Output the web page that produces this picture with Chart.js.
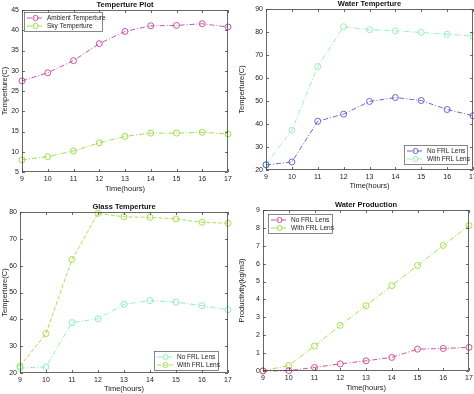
<!DOCTYPE html>
<html lang="en">
<head>
<meta charset="UTF-8">
<title>Temperture Plots</title>
<script src="https://cdn.jsdelivr.net/npm/chart.js"></script>
<style>
  body { margin: 0; background: #fff; }
  #wrap { position: relative; width: 474px; height: 394px; overflow: hidden; background: #fff; }
  #wrap canvas { position: absolute; }
</style>
</head>
<body>
<div id="wrap"></div>
<script>
// data
const hours = ['9', '10', '11', '12', '13', '14', '15', '16', '17'];

const ambientTemp = [27.5, 29.5, 32.5, 36.7, 39.7, 41.1, 41.2, 41.6, 40.8];
const skyTemp = [8.0, 8.8, 10.2, 12.2, 13.8, 14.6, 14.6, 14.8, 14.4];

const waterNoFrl = [22.2, 23.5, 41.2, 44.3, 49.8, 51.5, 50.2, 46.3, 43.6];
const waterWithFrl = [22.5, 37.3, 65.0, 82.3, 81.0, 80.5, 79.8, 79.0, 78.2];

const glassNoFrl = [21.8, 22.3, 38.8, 40.2, 45.6, 47.0, 46.4, 45.1, 43.6];
const glassWithFrl = [22.5, 34.7, 62.3, 79.5, 78.2, 78.0, 77.4, 76.2, 75.8];

const prodNoFrl = [0.0, 0.02, 0.2, 0.4, 0.57, 0.76, 1.22, 1.26, 1.32];
const prodWithFrl = [0.02, 0.3, 1.4, 2.55, 3.65, 4.77, 5.9, 7.02, 8.13];

const FONT = 'Liberation Sans, Arial, sans-serif';

// box + inward ticks + title + legend inside plot area (matlab look)
const matlabLook = {
    id: 'matlabLook',
    afterDatasetsDraw(chart, args, opts) {
        const ctx = chart.ctx;
        const a = chart.chartArea;
        const xs = chart.scales.x, ys = chart.scales.y;
        ctx.save();
        ctx.strokeStyle = '#444';
        ctx.lineWidth = 0.8;
        ctx.setLineDash([]);
        ctx.strokeRect(a.left + 0.5, a.top + 0.5, a.right - a.left - 1, a.bottom - a.top - 1);
        ctx.beginPath();
        xs.ticks.forEach((t, i) => {
            const px = Math.round(xs.getPixelForTick(i)) + 0.5;
            ctx.moveTo(px, a.bottom); ctx.lineTo(px, a.bottom - 3);
            ctx.moveTo(px, a.top); ctx.lineTo(px, a.top + 3);
        });
        ys.ticks.forEach(t => {
            const py = Math.round(ys.getPixelForValue(t.value)) + 0.5;
            ctx.moveTo(a.left, py); ctx.lineTo(a.left + 3, py);
            ctx.moveTo(a.right, py); ctx.lineTo(a.right - 3, py);
        });
        ctx.stroke();

        // title
        ctx.fillStyle = '#111';
        ctx.font = 'bold 7.5px ' + FONT;
        ctx.textAlign = 'center';
        ctx.textBaseline = 'bottom';
        ctx.fillText(opts.title, (a.left + a.right) / 2, a.top - 1);

        // legend
        const lg = opts.legend;
        const w = lg.w, rowH = 8, h = rowH * chart.data.datasets.length + 3;
        let bx, by;
        if (lg.pos === 'nw') { bx = a.left + lg.dx; by = a.top + lg.dy; }
        else { bx = a.right - lg.dx - w; by = a.bottom - lg.dy - h; }
        ctx.fillStyle = '#fff';
        ctx.fillRect(bx, by, w, h);
        ctx.strokeStyle = '#555';
        ctx.lineWidth = 0.7;
        ctx.strokeRect(bx + 0.5, by + 0.5, w, h);
        chart.data.datasets.forEach((ds, i) => {
            const cy = by + 2 + rowH * i + rowH / 2;
            ctx.strokeStyle = ds.borderColor;
            ctx.lineWidth = 0.9;
            ctx.setLineDash(ds.borderDash || []);
            ctx.beginPath();
            ctx.moveTo(bx + 3, cy); ctx.lineTo(bx + 20, cy);
            ctx.stroke();
            ctx.setLineDash([]);
            ctx.beginPath();
            ctx.arc(bx + 11.5, cy, 2.6, 0, Math.PI * 2);
            ctx.stroke();
            ctx.fillStyle = '#222';
            ctx.font = '6.5px ' + FONT;
            ctx.textAlign = 'left';
            ctx.textBaseline = 'middle';
            ctx.fillText(ds.label, bx + 23, cy);
        });
        ctx.restore();
    }
};

function series(label, data, color, dash) {
    return {
        label: label,
        data: data,
        borderColor: color,
        backgroundColor: 'transparent',
        borderWidth: 0.9,
        borderDash: dash,
        pointRadius: 3,
        pointBorderWidth: 0.9,
        pointBorderColor: color,
        pointBackgroundColor: 'transparent',
        tension: 0,
        clip: false
    };
}

function makePanel(cfg) {
    const canvas = document.createElement('canvas');
    canvas.width = cfg.box[2];
    canvas.height = cfg.box[3];
    canvas.style.left = cfg.box[0] + 'px';
    canvas.style.top = cfg.box[1] + 'px';
    canvas.style.width = cfg.box[2] + 'px';
    canvas.style.height = cfg.box[3] + 'px';
    document.getElementById('wrap').appendChild(canvas);

    return new Chart(canvas.getContext('2d'), {
        type: 'line',
        data: { labels: hours, datasets: cfg.datasets },
        options: {
            responsive: false,
            animation: false,
            devicePixelRatio: 1,
            layout: { padding: { top: cfg.padTop, right: cfg.padRight, left: 0, bottom: 0 } },
            plugins: {
                legend: { display: false },
                tooltip: { enabled: false },
                matlabLook: { title: cfg.title, legend: cfg.legend }
            },
            scales: {
                x: {
                    type: 'category',
                    offset: false,
                    grid: { display: false, drawTicks: false },
                    border: { display: false },
                    ticks: { color: '#222', font: { family: FONT, size: 7 }, padding: 3, maxRotation: 0, autoSkip: false },
                    title: { display: true, text: 'Time(hours)', color: '#222', font: { family: FONT, size: 7.5 }, padding: { top: 0, bottom: cfg.xTitleLift } },
                    afterFit: s => { s.height = cfg.xH; s.paddingLeft = 0; s.paddingRight = 0; }
                },
                y: {
                    min: cfg.yMin, max: cfg.yMax,
                    grid: { display: false, drawTicks: false },
                    border: { display: false },
                    ticks: { stepSize: cfg.yStep, color: '#222', font: { family: FONT, size: 7 }, padding: 3 },
                    title: { display: true, text: cfg.yTitle, color: '#222', font: { family: FONT, size: 7.5 }, padding: 0 },
                    afterFit: s => { s.width = cfg.yW; s.paddingTop = 0; s.paddingBottom = 0; }
                }
            }
        },
        plugins: [matlabLook]
    });
}

const dashDot = [5, 2, 1, 2];
const dashed = [4, 2];

makePanel({
    box: [0, 0, 237, 197], padTop: 10, padRight: 9, yW: 22, xH: 25, xTitleLift: 4,
    title: 'Temperture Plot', yTitle: 'Temperture(C)',
    yMin: 5, yMax: 45, yStep: 5,
    legend: { pos: 'nw', dx: 2, dy: 2, w: 78 },
    datasets: [
        series('Ambient Temperture', ambientTemp, '#c0449a', dashDot),
        series('Sky Temperture', skyTemp, '#92dc3a', dashDot)
    ]
});

// this panel runs past the right edge of the figure, like the reference crop
makePanel({
    box: [237, 0, 249, 197], padTop: 9, padRight: 13, yW: 29, xH: 27, xTitleLift: 7,
    title: 'Water Temperture', yTitle: 'Temperture(C)',
    yMin: 20, yMax: 90, yStep: 10,
    legend: { pos: 'se', dx: 6, dy: 6, w: 63 },
    datasets: [
        series('No FRL Lens', waterNoFrl, '#5a58c8', dashDot),
        series('With FRL Lens', waterWithFrl, '#8eeeb0', dashDot)
    ]
});

makePanel({
    box: [0, 197, 237, 197], padTop: 15, padRight: 9, yW: 20, xH: 21, xTitleLift: 1,
    title: 'Glass Temperture', yTitle: 'Temperture(C)',
    yMin: 20, yMax: 80, yStep: 10,
    legend: { pos: 'se', dx: 10, dy: 3, w: 64 },
    datasets: [
        series('No FRL Lens', glassNoFrl, '#88ecb8', dashDot),
        series('With FRL Lens', glassWithFrl, '#a2dc3e', dashed)
    ]
});

makePanel({
    box: [237, 197, 237, 197], padTop: 13, padRight: 5, yW: 26, xH: 23, xTitleLift: 2,
    title: 'Water Production', yTitle: 'Productivity(kg/m3)',
    yMin: 0, yMax: 9, yStep: 1,
    legend: { pos: 'nw', dx: 5, dy: 4, w: 64 },
    datasets: [
        series('No FRL Lens', prodNoFrl, '#c8428e', dashDot),
        series('With FRL Lens', prodWithFrl, '#98dc3a', dashDot)
    ]
});
</script>
</body>
</html>
